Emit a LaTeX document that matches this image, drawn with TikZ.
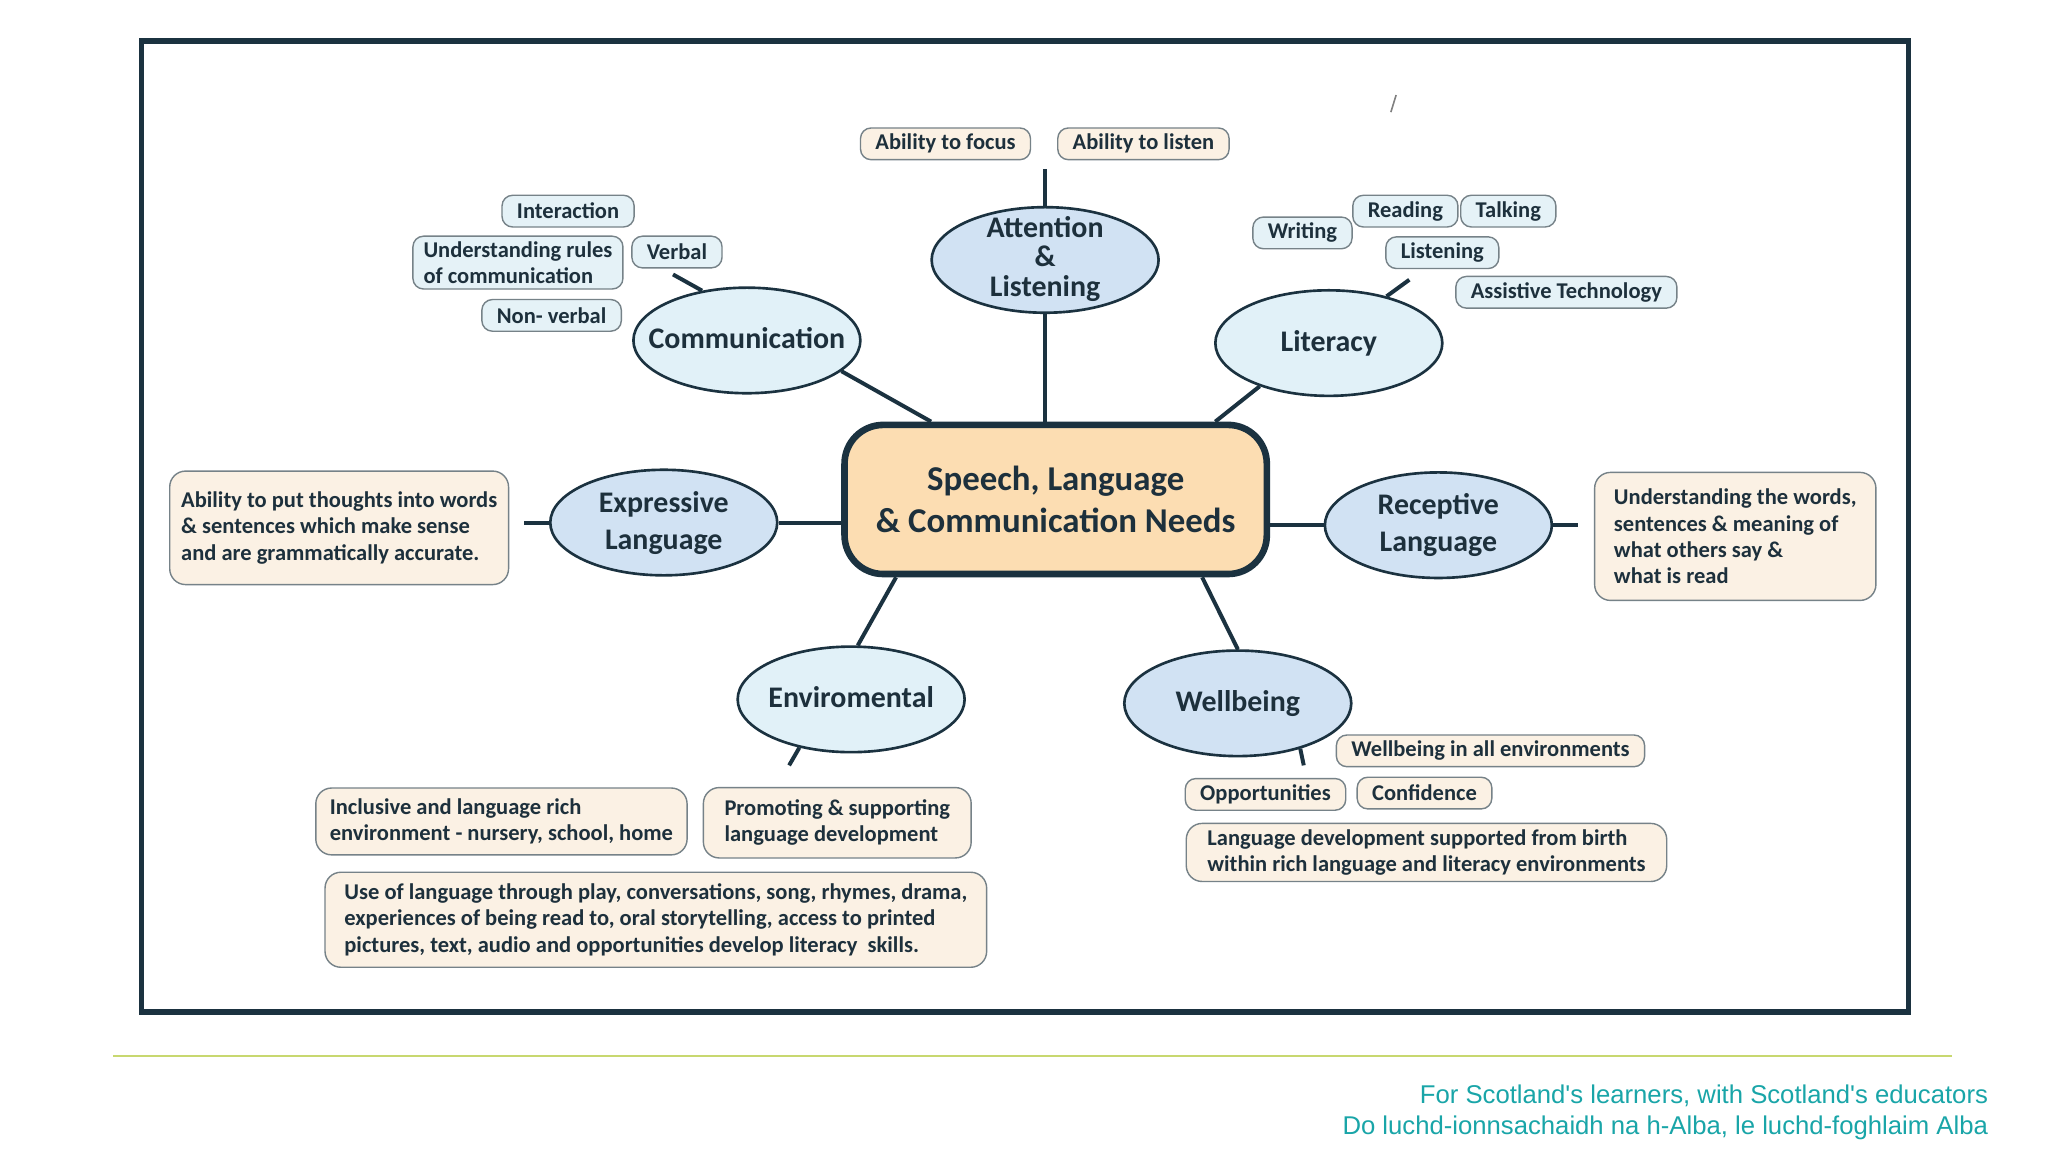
\documentclass[tikz,border=0pt]{standalone}
\usepackage{fontspec}
\setmainfont{Carlito}
\newfontfamily\footfont{Liberation Sans}
\usetikzlibrary{shapes.geometric}

\definecolor{navy}{RGB}{27,50,64}
\definecolor{inkc}{RGB}{29,48,60}
\definecolor{hubfill}{RGB}{252,221,178}
\definecolor{topicpale}{RGB}{225,241,248}
\definecolor{topicblue}{RGB}{209,226,243}
\definecolor{tagblue}{RGB}{229,242,247}
\definecolor{tagcream}{RGB}{251,241,228}
\definecolor{tagline}{RGB}{118,130,136}
\definecolor{footteal}{RGB}{25,165,168}
\definecolor{rulegreen}{RGB}{200,216,112}

% text of an oval, kept out of the oval's size
\newcommand{\ovaltext}[1]{\smash{\makebox[0pt]{\raisebox{-0.28em}{\begin{tabular}{@{}c@{}}#1\end{tabular}}}}}

\tikzset{every picture/.style={line width=0.75pt}}
\tikzset{
  hub/.style={draw=navy, line width=3.75pt, fill=hubfill, rounded corners=22pt, minimum width=240pt, minimum height=84.75pt, align=center, text=inkc, font=\fontsize{19.8}{24}\selectfont\bfseries},
  topic/.style={ellipse, draw=navy, line width=1.5pt, minimum width=129pt, minimum height=60pt, inner sep=0pt, text=inkc, font=\fontsize{17}{21}\selectfont\bfseries},
  paletopic/.style={topic, fill=topicpale},
  bluetopic/.style={topic, fill=topicblue},
  tag/.style={draw=tagline, line width=0.8pt, rounded corners=6pt, minimum height=18pt, inner xsep=8.5pt, inner ysep=0pt, text=inkc, font=\fontsize{12.8}{15}\selectfont\bfseries},
  bluetag/.style={tag, fill=tagblue},
  creamtag/.style={tag, fill=tagcream},
  note/.style={creamtag, align=left, rounded corners=9pt},
  spoke/.style={draw=navy, line width=2.25pt},
}

\begin{document}
\begin{tikzpicture}[x=0.75pt,y=0.75pt,yscale=-1,xscale=1]
\fill[white] (0,0) rectangle (1552,873);
\useasboundingbox (0,0) rectangle (1552,873);

%Shape: Rectangle (frame)
\draw [navy, line width=3pt] (107,31) rectangle (1446,767) ;
%Straight Lines (stray mark)
\draw [gray, line width=0.9pt] (1054,85) -- (1058,72) ;

% Hub
\node [hub] (hub) at (800,378.5) {Speech, Language\\\& Communication Needs};

%Shape: Ellipse
\node [bluetopic, font=\fontsize{17}{15.75}\selectfont\bfseries] (att) at (792,197) {\ovaltext{Attention\\\&\\Listening}};
\node [paletopic] (comm) at (566,258) {\ovaltext{Communication}};
\node [paletopic] (lit) at (1007,260) {\ovaltext{Literacy}};
\node [bluetopic] (exl) at (503,396) {\ovaltext{Expressive\\Language}};
\node [bluetopic] (rcl) at (1090,398) {\ovaltext{Receptive\\Language}};
\node [paletopic] (env) at (645,530) {\ovaltext{Enviromental}};
\node [bluetopic] (wel) at (938,533) {\ovaltext{Wellbeing}};

%Straight Lines
\draw [spoke] (att.south) -- (att.south |- hub.north) ;
\draw [spoke] (comm.-18) -- (hub.148) ;
\draw [spoke] (lit.212) -- (hub.26) ;
\draw [spoke] (exl.east) -- (exl.east -| hub.west) ;
\draw [spoke] (rcl.west) -- (rcl.west -| hub.east) ;
\draw [spoke] (env.83) -- (hub.206) ;
\draw [spoke] (wel.north) -- (hub.-28) ;

% stubs
\coordinate (attTip) at (792,128) ;
\coordinate (commTip) at (510,208) ;
\coordinate (litTip) at (1068,212) ;
\coordinate (exlTip) at (397,396) ;
\coordinate (rclTip) at (1196,398) ;
\coordinate (envTip) at (598,580) ;
\coordinate (welTip) at (988,580) ;
\draw [spoke] (att.north) -- (attTip) ;
\draw [spoke] (comm.132) -- (commTip) ;
\draw [spoke] (lit.39) -- (litTip) ;
\draw [spoke] (exl.west) -- (exlTip) ;
\draw [spoke] (rcl.east) -- (rclTip) ;
\draw [spoke] (env.223) -- (envTip) ;
\draw [spoke] (wel.-36) -- (welTip) ;

% Text Node (attention)
\node [creamtag] (focus) at (716.5,109) {Ability to focus};
\node [creamtag] (listen) at (866.5,109) {Ability to listen};
% Text Node (communication)
\node [bluetag] (interact) at (430.5,160) {Interaction};
\node [bluetag, align=left, minimum height=30pt, inner xsep=6pt] (rules) at (392.5,199) {Understanding rules\\of communication};
\node [bluetag] (verbal) at (513,191) {Verbal};
\node [bluetag] (nonverbal) at (418,239) {Non- verbal};
% Text Node (literacy)
\node [bluetag] (writing) at (987,176.5) {Writing};
\node [bluetag] (reading) at (1065,160) {Reading};
\node [bluetag] (talking) at (1143,160) {Talking};
\node [bluetag] (listening) at (1093,191.5) {Listening};
\node [bluetag] (assist) at (1187,221.5) {Assistive Technology};
% Text Node (expressive / receptive)
\node [note, minimum height=64.5pt, inner xsep=6.5pt] (exlnote) at (257,400) {Ability to put thoughts into words\\\& sentences which make sense\\and are grammatically accurate.};
\node [note, minimum height=72.75pt, inner xsep=11pt] (rclnote) at (1315,406.5) {Understanding the words,\\sentences \& meaning of\\what others say \&\\what is read};
% Text Node (environmental)
\node [note, minimum height=38pt, inner xsep=8pt] (inclusive) at (380,622.5) {Inclusive and language rich\\environment - nursery, school, home};
\node [note, minimum height=40pt, inner xsep=12pt] (promoting) at (634.5,623.5) {Promoting \& supporting\\language development};
\node [note, minimum height=54pt, inner xsep=11pt] (useof) at (497,697) {Use of language through play, conversations, song, rhymes, drama,\\experiences of being read to, oral storytelling, access to printed\\pictures, text, audio and opportunities develop literacy\ \ skills.};
% Text Node (wellbeing)
\node [creamtag] (allenv) at (1129.5,569) {Wellbeing in all environments};
\node [creamtag] (opport) at (959,602) {Opportunities};
\node [creamtag] (confid) at (1079.5,601) {Confidence};
\node [note, minimum height=33pt, inner xsep=12pt] (birth) at (1081,646) {Language development supported from birth\\within rich language and literacy environments};

% footer
\draw [rulegreen, line width=1.1pt] (86,800) -- (1479,800) ;
\node [anchor=base east, inner sep=0pt, text=footteal, font=\footfont\fontsize{14.6}{18}\selectfont] (footen) at (1507,836) {For Scotland's learners, with Scotland's educators};
\node [anchor=base east, inner sep=0pt, text=footteal, font=\footfont\fontsize{14.6}{18}\selectfont] (footgd) at (1507,860) {Do luchd-ionnsachaidh na h-Alba, le luchd-foghlaim Alba};

\end{tikzpicture}
\end{document}
